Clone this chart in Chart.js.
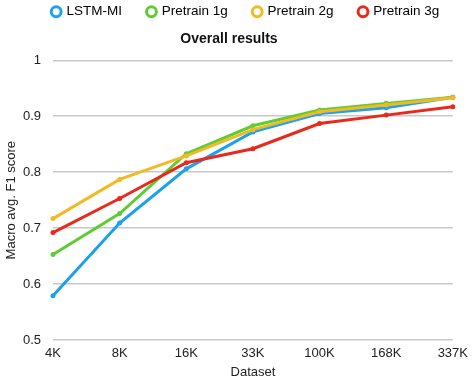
<!DOCTYPE html>
<html><head><meta charset="utf-8">
<script src="https://cdn.jsdelivr.net/npm/chart.js@4/dist/chart.umd.min.js"></script>
<style>html,body{margin:0;padding:0;background:#fff}#w{width:474px;height:382px}</style>
</head><body><div id="w"><canvas id="c"></canvas></div>
<script>
const categories = ["4K","8K","16K","33K","100K","168K","337K"];
const lstmMI     = [0.579,0.709,0.806,0.872,0.905,0.915,0.934];
const pretrain1g = [0.653,0.726,0.833,0.883,0.911,0.923,0.934];
const pretrain2g = [0.717,0.787,0.829,0.876,0.908,0.920,0.933];
const pretrain3g = [0.692,0.753,0.817,0.842,0.887,0.902,0.917];
const seriesNames = ["LSTM-MI","Pretrain 1g","Pretrain 2g","Pretrain 3g"];
const colors = ["#1ba1f0","#5fcc34","#f2ba22","#e8291b"];
const yTicks = [0.5,0.6,0.7,0.8,0.9,1];

const font = "'Liberation Sans', Arial, Helvetica, sans-serif";
const mk = (i, data) => ({
  label: seriesNames[i], data, borderColor: colors[i], backgroundColor: colors[i],
  borderWidth: 3, pointRadius: 2.5, pointHoverRadius: 3, pointBorderWidth: 0,
  tension: 0, pointStyle: 'circle'
});
const shiftLegend = {
  id: 'shiftLegend',
  afterLayout(chart) {
    if (chart.legend) { chart.legend.left += 17; chart.legend.right += 17; }
  }
};
new Chart(document.getElementById('c'), {
  type: 'line',
  data: { labels: categories, datasets: [mk(2,pretrain2g), mk(3,pretrain3g), mk(1,pretrain1g), mk(0,lstmMI)] },
  plugins: [shiftLegend],
  options: {
    responsive: true, maintainAspectRatio: false, animation: false,
    layout: { padding: { left: 0, right: 16, top: -21, bottom: 0 } },
    plugins: {
      legend: {
        position: 'top', weight: 3000,
        labels: {
          font: { family: font, size: 13.5 }, color: '#222',
          usePointStyle: true, boxWidth: 7, boxHeight: 7, padding: 26,
          sort: (a, b) => seriesNames.indexOf(a.text) - seriesNames.indexOf(b.text),
          generateLabels: (chart) => chart.data.datasets.map((d, i) => ({
            text: d.label, fillStyle: '#fff', strokeStyle: d.borderColor,
            lineWidth: 3, pointStyle: 'circle', datasetIndex: i, hidden: false
          }))
        }
      },
      title: { display: true, weight: 1000, text: 'Overall results', font: { family: font, size: 14, weight: 'bold' }, color: '#111', padding: { top: 2, bottom: 13 } },
      tooltip: { enabled: false }
    },
    scales: {
      x: {
        offset: false,
        afterFit: (s) => { s.height = 42; },
        grid: { display: false, drawTicks: false, tickLength: 0 },
        border: { display: false },
        ticks: { font: { family: font, size: 13 }, color: '#222', padding: 6, maxRotation: 0 },
        title: { display: true, text: 'Dataset', font: { family: font, size: 13 }, color: '#222', padding: { top: 0, bottom: 2 } }
      },
      y: {
        min: 0.5, max: 1,
        afterBuildTicks: (s) => { s.ticks = yTicks.map(v => ({ value: v })); },
        afterFit: (s) => { s.width = 53; },
        grid: { color: '#c8c8c8', lineWidth: 1.5, drawTicks: false },
        border: { display: false },
        ticks: { font: { family: font, size: 13 }, color: '#222', padding: 12, callback: (v) => String(v) },
        title: { display: true, text: 'Macro avg. F1 score', font: { family: font, size: 13 }, color: '#222', padding: { top: 4, bottom: 2 } }
      }
    }
  }
});
</script></body></html>
